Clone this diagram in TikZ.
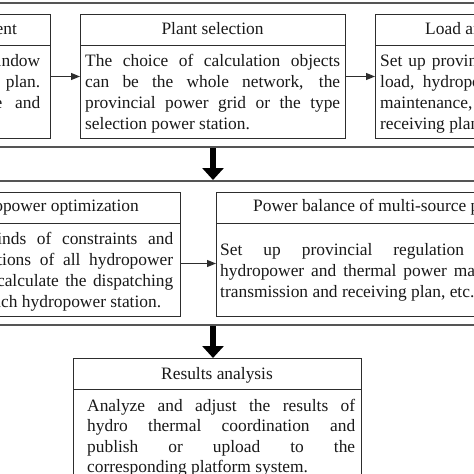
\documentclass[tikz,border=0pt]{standalone}
\usepackage{fontspec}
\setmainfont{Liberation Serif}
\usetikzlibrary{arrows.meta}
\definecolor{boxc}{RGB}{45,45,45}
\definecolor{grpc}{RGB}{85,85,85}
\definecolor{txtc}{RGB}{25,25,25}
\newcommand\dfont{\fontsize{17.4}{21}\selectfont}
\newcommand\rfont{\fontsize{17.4}{20.5}\selectfont}
\newcommand\jl[2]{\makebox[#1][s]{#2}}
\tikzset{
  grp/.style={draw=grpc, line width=2pt, inner sep=0pt, anchor=north west},
  box/.style={draw=boxc, line width=1pt, inner sep=0pt, anchor=north west, minimum height=124pt},
  divider/.style={draw=boxc, line width=1pt},
  hdr/.style={inner sep=0pt, font=\dfont, text=txtc},
  body/.style={inner sep=0pt, align=left, font=\dfont, text=txtc, anchor=north west},
  arr/.style={draw=boxc, line width=0.9pt, -{Triangle[length=9pt,width=7pt]}},
  bigarr/.style={draw=black, line width=6pt, -{Triangle[length=12pt,width=21pt]}},
}
\begin{document}
\begin{tikzpicture}[x=1pt,y=-1pt]
\useasboundingbox (0,0) rectangle (474,474);
\clip (0,0) rectangle (474,474);
\fill[white] (0,0) rectangle (474,474);

% group frames
\node[grp, minimum width=540pt, minimum height=144.5pt] (G1) at (-30,1.5) {};
\node[grp, minimum width=540pt, minimum height=144pt] (G2) at (-30,180) {};

% boxes of the first row
\node[box, minimum width=265pt] (A) at (-215,14) {};
\node[box, minimum width=265pt] (B) at (80,14) {};
\node[box, minimum width=265pt] (C) at (375,14) {};
% boxes of the second row
\node[box, minimum width=252.6pt] (D) at (-72.6,192) {};
\node[box, minimum width=335pt] (E) at (216,192) {};
% results box
\node[box, minimum width=288pt, minimum height=140pt] (F) at (73,358) {};

% header dividers
\foreach \b in {A,B,C,D,E,F}
  \draw[divider] ([yshift=-31pt]\b.north west) -- ([yshift=-31pt]\b.north east);

% headers
\node[hdr, anchor=base east] (hA) at (17,34) {Calculation time management};
\node[hdr, anchor=base] (hB) at (212.5,34) {Plant selection};
\node[hdr, anchor=base west] (hC) at (425,34) {Load and plan setting};
\node[hdr, anchor=base east] (hD) at (139,211.5) {Hydropower optimization};
\node[hdr, anchor=base west] (hE) at (253,211.5) {Power balance of multi-source power};
\node[hdr, anchor=base] (hF) at (217,379) {Results analysis};

% bodies
\node[body] (tA) at (-210,51.3) {\strut\jl{250pt}{Set up the calculation time window}\\
  \jl{250pt}{and the initial dispatching plan.}\\
  \jl{250pt}{Determine the period scale and}\\
  step size.};
\node[body] (tB) at (85,51.3) {\strut\jl{255pt}{The choice of calculation objects}\\
  \jl{255pt}{can be the whole network, the}\\
  \jl{255pt}{provincial power grid or the type}\\
  selection power station.};
\node[body] (tC) at (380,51.3) {\strut\jl{255pt}{Set up provincial power forecasting}\\
  \jl{255pt}{load, hydropower and thermal unit}\\
  \jl{255pt}{maintenance, transmission and}\\
  receiving plan.};
\node[body] (tD) at (-67.6,229.3) {\strut\jl{240.6pt}{Varied kinds of constraints and}\\
  \jl{240.6pt}{all conditions of all hydropower}\\
  \jl{240.6pt}{stations, calculate the dispatching}\\
  plan of each hydropower station.};
\node[body] (tE) at (220,240.3) {\strut\jl{326pt}{Set up provincial regulation capacity,}\\
  \jl{326pt}{hydropower and thermal power maintenance,}\\
  transmission and receiving plan, etc.};
\node[body, font=\rfont] (tF) at (87,396.65) {\strut\jl{268pt}{Analyze and adjust the results of}\\
  \jl{268pt}{hydro thermal coordination and}\\
  \jl{268pt}{publish or upload to the}\\
  corresponding platform system.};

% connectors
\draw[arr] (A.east) -- (B.west);
\draw[arr] (B.east) -- (C.west);
\draw[arr] ([yshift=-9pt]D.east) -- ([yshift=-9pt]E.west);
\draw[bigarr] (B.south |- G1.south) -- (B.south |- G2.north);
\draw[bigarr] (B.south |- G2.south) -- (B.south |- F.north);
\end{tikzpicture}
\end{document}
